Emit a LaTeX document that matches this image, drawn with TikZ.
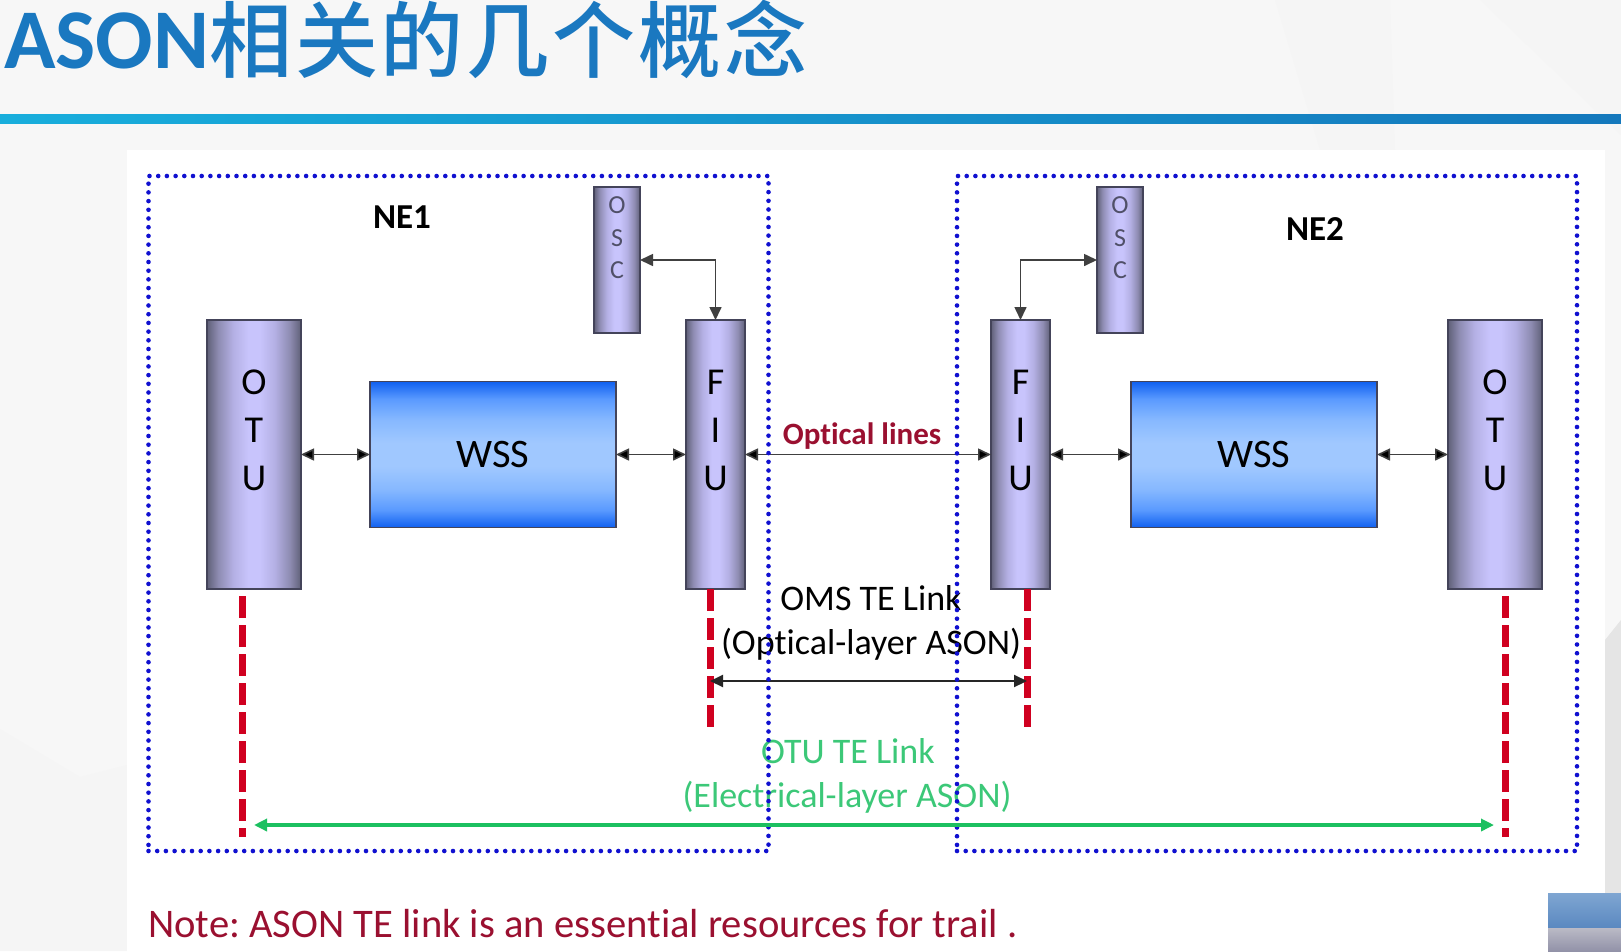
\documentclass[tikz,border=0pt]{standalone}
\usepackage{fontspec}
\setmainfont[Ligatures=NoCommon]{Carlito}
\newfontfamily\cjk[LetterSpace=3.4]{Noto Sans CJK SC Medium}
\usetikzlibrary{positioning,arrows.meta}
\frenchspacing
\definecolor{titleblue}{HTML}{1A78C0}
\definecolor{ruleleft}{HTML}{18AEDC}
\definecolor{ruleright}{HTML}{1478BC}
\definecolor{blocktop}{HTML}{7FA6D2}
\definecolor{blockmid}{HTML}{5A88C0}
\definecolor{blocklow}{HTML}{BABAC6}
\definecolor{blockend}{HTML}{9292A8}
\definecolor{dotblue}{HTML}{1010D0}
\definecolor{dashred}{HTML}{D00020}
\definecolor{notered}{HTML}{9A1030}
\definecolor{linkgreen}{HTML}{1CC060}
\definecolor{textgreen}{HTML}{3CC878}
\definecolor{barside}{HTML}{606078}
\definecolor{barsoft}{HTML}{8E8CB2}
\definecolor{barlight}{HTML}{B4B0E4}
\definecolor{barmid}{HTML}{C8C4FC}
\definecolor{wssedge}{HTML}{1060F0}
\definecolor{wsssoft}{HTML}{5A9AFF}
\definecolor{wsslight}{HTML}{86B8FF}
\definecolor{wssmid}{HTML}{A0C8FF}
\definecolor{edgegray}{HTML}{44445A}
\definecolor{oscgray}{HTML}{505068}
\pgfdeclarehorizontalshading{barshade}{100bp}{color(0bp)=(barside); color(25bp)=(barside); color(31bp)=(barsoft); color(39bp)=(barlight); color(47bp)=(barmid); color(53bp)=(barmid); color(61bp)=(barlight); color(69bp)=(barsoft); color(75bp)=(barside); color(100bp)=(barside)}
\pgfdeclareverticalshading{wssshade}{100bp}{color(0bp)=(wssedge); color(25bp)=(wssedge); color(31bp)=(wsssoft); color(38bp)=(wsslight); color(46bp)=(wssmid); color(54bp)=(wssmid); color(62bp)=(wsslight); color(69bp)=(wsssoft); color(75bp)=(wssedge); color(100bp)=(wssedge)}
\begin{document}
\begin{tikzpicture}[%
    x=1pt,
    y=-1pt,
    >={Triangle[length=13pt,width=12pt]},
    barbox/.style={%
      rectangle,
      draw=edgegray,
      line width=1.2pt,
      inner sep=0pt,
      outer sep=0pt,
      align=center,
      shade,
      shading=barshade
    },
    otubar/.style={%
      barbox,
      minimum width=94pt,
      minimum height=269pt,
      font=\fontsize{38}{48}\selectfont
    },
    fiubar/.style={%
      barbox,
      minimum width=59pt,
      minimum height=269pt,
      font=\fontsize{38}{48}\selectfont
    },
    oscbar/.style={%
      barbox,
      minimum width=46pt,
      minimum height=146pt,
      text=oscgray,
      font=\fontsize{26}{32.5}\selectfont
    },
    wssbox/.style={%
      rectangle,
      draw=edgegray,
      line width=1.2pt,
      outer sep=0pt,
      minimum width=246pt,
      minimum height=146pt,
      shade,
      shading=wssshade,
      font=\fontsize{40.5}{44}\selectfont
    },
    nebox/.style={%
      rectangle,
      draw=dotblue,
      line width=4.6pt,
      line cap=round,
      dash pattern=on 0pt off 8.7pt,
      inner sep=0pt
    },
    label/.style={%
      inner sep=0pt,
      anchor=base
    },
    redline/.style={%
      draw=dashred,
      line width=7pt,
      dash pattern=on 22pt off 7pt
    },
    link/.style={%
      <->,
      line width=1.6pt,
      draw=black!75
    }
  ]
    \useasboundingbox (0,0) rectangle (1621,951);

    % slide
    \fill[black!3] (0,0) rectangle (1621,951);
    \fill[black!4] (1275,0) -- (1390,0) -- (1395,150) -- (1320,150) -- cycle;
    \fill[black!4] (1480,0) -- (1621,0) -- (1621,135) -- cycle;
    \fill[black!10] (1621,620) -- (1605,640) -- (1605,951) -- (1621,951) -- cycle;
    \fill[black!4] (0,729) -- (80,777) -- (127,765) -- (127,951) -- (0,951) -- cycle;
    \fill[white] (127,150) rectangle (1605,951);
    \fill[left color=ruleleft,right color=ruleright] (0,114.5) rectangle (1621,123.5);
    \fill[top color=blocktop,bottom color=blockmid] (1548,893) rectangle (1621,928);
    \fill[top color=blocklow,bottom color=blockend] (1548,928) rectangle (1621,951);
    \node[label,anchor=base west,text=titleblue,font=\fontsize{85}{90}\selectfont\bfseries] (title) at (4,68)
      {ASON\raisebox{-3pt}{\cjk\mdseries\fontsize{83}{90}\selectfont 相关的几个概念}};

    % nodes
    \node[otubar] (otu1) at (254,454.5)             {O\\T\\U\\~};
    \node[wssbox] (wss1) [right=69pt of otu1]       {WSS};
    \node[fiubar] (fiu1) [right=70pt of wss1]       {F\\I\\U\\~};
    \node[fiubar] (fiu2) [right=246pt of fiu1]      {F\\I\\U\\~};
    \node[wssbox] (wss2) [right=81pt of fiu2]       {WSS};
    \node[otubar] (otu2) [right=71pt of wss2]       {O\\T\\U\\~};
    \node[oscbar] (osc1) at (617,260)               {O\\S\\C\\[12pt]~};
    \node[oscbar] (osc2) at (1120,260)              {O\\S\\C\\[12pt]~};

    \node[label,font=\fontsize{35}{38}\selectfont\bfseries] (ne1) at (402,228) {NE1};
    \node[label,font=\fontsize{35}{38}\selectfont\bfseries] (ne2) at (1315,240) {NE2};
    \node[label,text=notered,font=\fontsize{31}{34}\selectfont\bfseries] (lines) at (862,444) {Optical lines};
    \node[label,font=\fontsize{36}{40}\selectfont] (oms1) at (871,610) {OMS TE Link};
    \node[label,font=\fontsize{36}{40}\selectfont] (oms2) at (871,654) {(Optical-layer ASON)};
    \node[label,text=textgreen,font=\fontsize{36}{40}\selectfont] (otn1) at (848,763) {OTU TE Link};
    \node[label,text=textgreen,font=\fontsize{36}{40}\selectfont] (otn2) at (847,807) {(Electrical-layer ASON)};
    \node[label,anchor=base west,text=notered,font=\fontsize{40.6}{44}\selectfont] (note) at (148,937)
      {Note: ASON TE link is an essential resources for trail .};

    % ends of the dashed lines and of the TE links
    \coordinate (otu1top) at (242,596);
    \coordinate (otu1end) at (242,837);
    \coordinate (otu2top) at (1505,596);
    \coordinate (otu2end) at (1505,837);
    \coordinate (fiu1top) at (710,589);
    \coordinate (fiu1end) at (710,727);
    \coordinate (fiu2top) at (1027,589);
    \coordinate (fiu2end) at (1027,727);
    \coordinate (omsleft) at (710,681);
    \coordinate (omsright) at (1027,681);
    \coordinate (otuleft) at (254,825);
    \coordinate (oturight) at (1494,825);

    \draw[redline] (otu1top) -- (otu1end);
    \draw[redline] (otu2top) -- (otu2end);
    \draw[redline] (fiu1top) -- (fiu1end);
    \draw[redline] (fiu2top) -- (fiu2end);

    \path[link] (otu1) edge (wss1)
                (wss1) edge (fiu1)
                (fiu1) edge (fiu2)
                (fiu2) edge (wss2)
                (wss2) edge (otu2);
    \draw[link] (osc1.east) -| (fiu1.north);
    \draw[link] (osc2.west) -| (fiu2.north);
    \draw[<->,line width=2pt,black!85] (omsleft) -- (omsright);

    % dotted boxes
    \node[nebox,minimum width=620pt,minimum height=675pt] (ne1box) at (458.5,513.5) {};
    \node[nebox,minimum width=620pt,minimum height=675pt] (ne2box) at (1267,513.5) {};

    \draw[<->,line width=3.5pt,linkgreen] (otuleft) -- (oturight);
  \end{tikzpicture}
\end{document}
